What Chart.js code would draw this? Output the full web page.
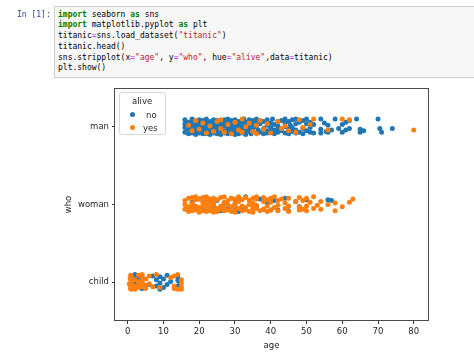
<!DOCTYPE html>
<html><head><meta charset="utf-8">
<script src="https://cdn.jsdelivr.net/npm/chart.js@4.4.0/dist/chart.umd.min.js"></script>
<style>
html,body{margin:0;padding:0;background:#fff;width:474px;height:355px;overflow:hidden;position:relative}
#c{position:absolute;left:0;top:0}
.prompt{position:absolute;left:17px;top:9.5px;font:8px/10.8px "DejaVu Sans Mono",monospace;color:#303F9F;white-space:pre}
.cell{position:absolute;left:54px;top:6px;width:430px;height:72px;background:#f7f7f7;border:1px solid #cfcfcf;box-sizing:border-box}
.cell pre{margin:0;position:absolute;left:3px;top:2.5px;font:8px/10.8px "DejaVu Sans Mono",monospace;color:#000}
.k{color:#008000;font-weight:bold}
.s{color:#BA2121}
.o{color:#AA22FF}
.legend{position:absolute;left:119px;top:92px;width:47px;height:43px;border:1px solid #d6d6d6;border-radius:3px;background:rgba(255,255,255,0.85);box-sizing:border-box;font:8.5px "DejaVu Sans",sans-serif;color:#262626}
.legend span{position:absolute;line-height:10px;white-space:nowrap}
.legend i{position:absolute;width:5px;height:5px;border-radius:50%}
</style>
</head><body>
<canvas id="c" width="474" height="355"></canvas>
<div class="prompt">In [1]:</div>
<div class="cell"><pre><span class="k">import</span> seaborn <span class="k">as</span> sns
<span class="k">import</span> matplotlib.pyplot <span class="k">as</span> plt
titanic<span class="o">=</span>sns.load_dataset(<span class="s">"titanic"</span>)
titanic.head()
sns.stripplot(x<span class="o">=</span><span class="s">"age"</span>, y<span class="o">=</span><span class="s">"who"</span>, hue<span class="o">=</span><span class="s">"alive"</span>,data<span class="o">=</span>titanic)
plt.show()</pre></div>
<div class="legend">
  <span style="left:12px;top:3px">alive</span>
  <i style="left:9.5px;top:19px;background:#1f77b4"></i><span style="left:26px;top:16.5px">no</span>
  <i style="left:9.5px;top:32px;background:#ff7f0e"></i><span style="left:23px;top:30px">yes</span>
</div>
<script>
// categories (y axis) and hue levels
const whoCats = ['man', 'woman', 'child'];
const hueLevels = ['no', 'yes'];
const xTicks = [0, 10, 20, 30, 40, 50, 60, 70, 80];

// [age, jitter] pairs
const manNo = [
[16,0.07],[16,-0.04],[16,0.01],[16,-0.09],
[17,-0.06],[17,0.09],[17,0.03],[17,-0.01],
[18,0.05],[18,-0.08],[18,0.02],[18,0.08],[18,-0.03],[18,-0.1],
[19,-0.07],[19,0.04],[19,0.1],[19,-0.02],[19,0.06],[19,-0.05],[19,0.0],
[20,0.08],[20,-0.09],[20,0.03],[20,-0.04],[20,0.06],[20,-0.01],
[21,-0.08],[21,0.05],[21,0.01],[21,-0.06],[21,0.09],[21,-0.03],[21,0.03],
[22,0.07],[22,-0.1],[22,0.0],[22,-0.05],[22,0.04],[22,0.09],[22,-0.02],
[23,-0.07],[23,0.06],[23,-0.03],[23,0.02],[23,0.1],
[24,0.04],[24,-0.09],[24,0.08],[24,-0.04],[24,0.0],[24,-0.06],
[25,-0.08],[25,0.09],[25,0.02],[25,-0.02],[25,0.06],[25,-0.05],[25,0.04],
[26,0.07],[26,-0.07],[26,0.01],[26,-0.03],[26,0.1],
[27,-0.09],[27,0.05],[27,-0.01],[27,0.08],[27,-0.05],
[28,0.03],[28,-0.06],[28,0.09],[28,-0.1],[28,0.0],[28,0.06],[28.5,-0.03],
[29,-0.04],[29,0.07],[29,-0.08],[29,0.02],[29,0.05],[29,-0.01],
[30,0.08],[30,-0.05],[30,0.0],[30,-0.09],[30,0.04],[30,0.1],[30.5,-0.02],
[31,-0.07],[31,0.06],[31,-0.03],[31,0.02],[31,0.09],
[32,0.05],[32,-0.08],[32,0.0],[32,-0.04],[32,0.08],[32.5,-0.1],
[33,-0.06],[33,0.03],[33,0.07],[33,-0.02],[33,0.1],
[34,0.01],[34,-0.09],[34,0.06],[34,-0.05],[34.5,0.09],
[35,-0.03],[35,0.05],[35,-0.08],[35,0.02],
[36,0.08],[36,-0.06],[36,0.0],[36,-0.1],[36.5,0.04],
[37,-0.04],[37,0.07],[37,-0.08],
[38,0.02],[38,-0.07],[38,0.09],
[39,-0.09],[39,0.05],[39,-0.02],[39,0.08],
[40,0.06],[40,-0.05],[40,0.01],[40.5,-0.1],
[41,0.09],[41,-0.03],[41,0.04],
[42,-0.07],[42,0.07],[42,-0.01],[42,0.03],
[43,0.05],[43,-0.08],
[44,-0.05],[44,0.08],[44,0.0],[44,-0.1],
[45,0.03],[45,-0.07],[45,0.09],[45.5,-0.02],
[46,-0.09],[46,0.06],[46,0.01],
[47,0.08],[47,-0.04],[47,-0.1],[47,0.04],
[48,-0.06],[48,0.07],
[49,0.02],[49,-0.08],[49,0.09],
[50,-0.04],[50,0.05],[50,-0.1],
[51,0.07],[51,-0.06],[51,0.01],
[52,-0.03],[52,0.08],
[54,-0.1],[54,0.03],[54,0.08],
[55,-0.05],[55.5,0.06],
[56,0.07],[56,-0.02],
[57,0.04],[58,-0.1],[59,0.02],
[60,-0.03],[60,0.07],
[61,-0.06],[61,0.04],
[62,0.02],[62,-0.08],
[64,-0.1],[65,0.03],[65,0.07],[66,0.05],
[70,-0.1],[70.5,0.02],[71,0.07],[74,0.02]
];
const manYes = [
[17,-0.02],[18,0.05],[19,-0.08],[20,0.03],[21,-0.05],[22,0.08],[23,-0.01],[24,0.06],
[25,-0.07],[26,0.02],[26,-0.09],[27,0.07],[28,-0.03],[29,0.09],[30,-0.06],[31,0.04],
[32,-0.1],[32,0.07],[33,0.0],[34,-0.05],[35,0.06],[36,-0.02],[36,0.09],[37,-0.08],
[38,0.03],[39,-0.04],[40,0.08],[42,-0.07],[43,0.02],[44,-0.01],[45,0.05],[47,0.07],
[48,-0.09],[49,0.01],[51,-0.03],[52,-0.1],[56,0.04],[60,-0.1],[62,-0.09],[80,0.04]
];
const womanNo = [
[18,-0.03],[20,-0.07],[21,0.05],[22,-0.09],[24,0.02],[25,-0.05],[26,0.08],[27,-0.02],
[28,0.06],[29,-0.08],[30,0.0],[31,-0.06],[31,0.09],[32,0.04],[33,-0.1],[36,0.03],
[37,-0.07],[38,0.06],[39,-0.02],[40,0.07],[41,-0.05],[42,0.07],[44,-0.08],[45,0.08],
[47,-0.04],[48,0.03],[50,-0.06],[56,-0.06],[57,-0.05]
];
const womanYes = [
[16,0.06],[16,-0.05],[16,0.0],
[17,-0.08],[17,0.03],[17,0.09],
[18,0.05],[18,-0.02],[18,-0.09],[18,0.08],[18,0.01],
[19,-0.06],[19,0.07],[19,0.02],[19,-0.1],
[20,0.04],[20,-0.07],[20,0.1],
[21,-0.03],[21,0.08],[21,-0.09],[21,0.02],
[22,0.06],[22,-0.05],[22,0.0],[22,0.09],[22,-0.1],
[23,-0.07],[23,0.04],[23,-0.02],[23,0.08],
[24,0.01],[24,-0.08],[24,0.07],[24,-0.04],[24,0.1],[24,-0.01],
[25,0.05],[25,-0.06],[25,0.09],
[26,-0.09],[26,0.02],[26,0.06],
[27,0.08],[27,-0.03],[27,-0.1],[27,0.04],
[28,-0.05],[28,0.07],[28,0.0],
[29,0.03],[29,-0.08],[29,0.09],
[30,-0.02],[30,0.06],[30,-0.07],[30,0.1],[30,0.01],
[31,0.05],[31,-0.1],[31,-0.04],
[32,0.08],[32,-0.06],[32,0.02],
[33,-0.09],[33,0.04],[33,0.07],
[34,0.0],[34,-0.05],[34,0.09],
[35,-0.08],[35,0.06],[35,-0.02],[35,0.03],[35,0.1],
[36,0.05],[36,-0.07],[36,0.01],[36,-0.1],
[37,0.08],
[38,-0.04],[38,0.06],[38,-0.09],
[39,0.02],[39,-0.06],[39,0.09],
[40,-0.03],[40,0.07],[40,-0.08],
[41,0.04],[41,-0.1],
[42,0.08],[42,-0.05],[42,0.01],
[43,-0.07],
[44,0.05],[44,-0.02],
[45,0.09],[45,-0.08],[45,0.02],
[47,-0.04],
[48,0.07],[48,-0.09],[48,0.03],
[49,-0.05],[49,0.06],
[50,0.02],[50,-0.08],[50,0.08],
[51,-0.03],
[52,-0.1],[52,0.05],
[53,0.01],
[54,-0.04],[54,0.06],
[56,0.0],
[58,-0.02],[58,0.08],
[60,0.03],
[62,-0.03],
[63,-0.07]
];
const childNo = [
[1,-0.02],[2,0.06],[2,-0.08],[2,0.02],[2,-0.1],[3,-0.05],[4,0.08],[4,-0.09],[6,0.03],
[7,-0.08],[8,0.05],[8,-0.03],[9,0.09],[9,-0.07],[9,0.01],[10,-0.04],[10,0.07],
[11,-0.09],[11,0.03],[12,-0.01],[14,-0.07],[14,0.05],[14,-0.02],[14.5,0.0]
];
const childYes = [
[0.42,0.02],[0.67,-0.05],[0.75,0.08],[0.83,-0.09],[0.83,0.04],[0.92,-0.02],[1,0.09],
[1,-0.07],[1,0.01],[2,0.05],[2,-0.03],[2,0.09],[3,-0.09],[3,0.03],[3,0.07],[3,-0.01],
[4,-0.06],[4,0.0],[4,0.06],[4,-0.1],[5,0.04],[5,-0.04],[5,0.08],[6,-0.08],[6,0.02],
[7,0.06],[8,-0.1],[9,0.07],[12,-0.06],[13,-0.08],[13,0.05],[13,0.08],[14,0.09],
[14,-0.1],[15,0.06],[15,-0.03],[15,0.09],[15,0.01]
];

const seriesNo = [manNo, womanNo, childNo];
const seriesYes = [manYes, womanYes, childYes];

function toPoints(groups) {
  const out = [];
  groups.forEach((g, i) => g.forEach(p => out.push({x: p[0], y: i + p[1]})));
  return out;
}

const tickFont = {family: 'DejaVu Sans', size: 8.5};
const textColor = '#262626';

const framePlugin = {
  id: 'frame',
  afterDatasetsDraw(chart) {
    const a = chart.chartArea, ctx = chart.ctx;
    ctx.save();
    ctx.strokeStyle = '#4a4a4a';
    ctx.lineWidth = 1;
    ctx.strokeRect(Math.round(a.left) - 0.5, Math.round(a.top) + 0.5,
      Math.round(a.right - a.left) + 1, Math.round(a.bottom - a.top) - 1);
    ctx.restore();
  }
};

new Chart(document.getElementById('c'), {
  type: 'scatter',
  data: {
    datasets: [
      {label: hueLevels[0], data: toPoints(seriesNo), backgroundColor: '#1f77b4', borderWidth: 0, pointRadius: 2.5, pointHoverRadius: 2.5, order: 2},
      {label: hueLevels[1], data: toPoints(seriesYes), backgroundColor: '#ff7f0e', borderWidth: 0, pointRadius: 2.5, pointHoverRadius: 2.5, order: 1}
    ]
  },
  options: {
    responsive: false,
    animation: false,
    devicePixelRatio: 1,
    layout: {padding: {left: 60, top: 88, right: 46, bottom: 0}},
    plugins: {legend: {display: false}, tooltip: {enabled: false}},
    scales: {
      x: {
        type: 'linear', min: -3.56, max: 83.98,
        afterBuildTicks: s => { s.ticks = xTicks.map(v => ({value: v})); },
        afterFit: s => { s.height = 34; },
        ticks: {font: tickFont, color: textColor, padding: 3, maxRotation: 0, autoSkip: false},
        grid: {display: true, drawOnChartArea: false, drawTicks: true, tickLength: 3, tickColor: '#333', color: '#333'},
        border: {display: false},
        title: {display: true, text: 'age', font: tickFont, color: textColor, padding: {top: 0, bottom: 4}}
      },
      y: {
        type: 'linear', min: -0.5, max: 2.5, reverse: true,
        afterBuildTicks: s => { s.ticks = whoCats.map((c, i) => ({value: i})); },
        afterFit: s => { s.width = 55; },
        ticks: {font: tickFont, color: textColor, padding: 3, autoSkip: false, callback: v => whoCats[v]},
        grid: {display: true, drawOnChartArea: false, drawTicks: true, tickLength: 3, tickColor: '#333', color: '#333'},
        border: {display: false},
        title: {display: true, text: 'who', font: tickFont, color: textColor, padding: {top: 4, bottom: 0}}
      }
    }
  },
  plugins: [framePlugin]
});
</script>
</body></html>
